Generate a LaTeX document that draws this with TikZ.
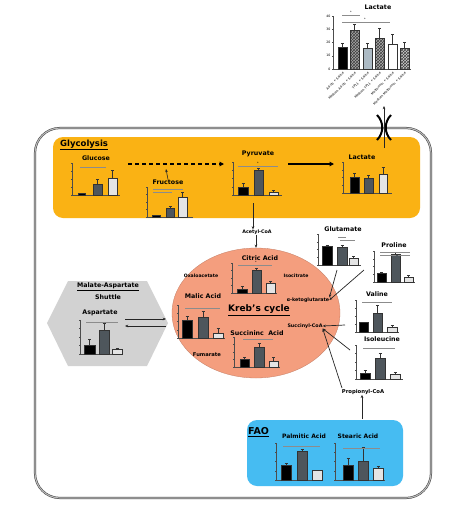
\documentclass[tikz,border=0pt]{standalone}
\usepackage{fontspec}
\setmainfont{DejaVu Sans}
\usetikzlibrary{arrows.meta,shapes.geometric,patterns}
\definecolor{glyorange}{RGB}{250,178,20}
\definecolor{krebsalmon}{RGB}{244,158,126}
\definecolor{faoblue}{RGB}{70,188,242}
\definecolor{hexgray}{RGB}{210,210,210}
\definecolor{bardark}{RGB}{78,86,92}
\definecolor{barlight}{RGB}{228,228,228}
\definecolor{barblue}{RGB}{172,186,196}
\newcommand{\chartaxes}[4]{%
  \draw[axisline] (#1,#2) -- (#1,#3) -- (#4,#3);
  \foreach \k in {0,...,4} \draw[axisline] (#1,{#3+(#2-#3)*\k/4}) -- ++(-1.2,0);
}
\newcommand{\chartbar}[6]{%
  \pgfmathsetmacro{\mycx}{(#1+#2)/2}%
  \draw[errline] (\mycx,#4) -- (\mycx,#5) (\mycx-1.5,#5) -- (\mycx+1.5,#5);
  \filldraw[barframe,fill=#6] (#1,#3) rectangle (#2,#4);
}
\newcommand{\hatchbar}[6]{%
  \chartbar{#1}{#2}{#3}{#4}{#5}{#6}%
  \fill[pattern=crosshatch,pattern color=black!75] (#1,#3) rectangle (#2,#4);
  \draw[barframe] (#1,#3) rectangle (#2,#4);
}
\newcommand{\sigline}[3]{\draw[sigstyle] (#1,#3) -- (#2,#3);}
\begin{document}
\begin{tikzpicture}[x=1pt,y=-1pt,
  lbl/.style={font=\fontsize{6.3}{7}\selectfont\bfseries,inner sep=0pt},
  sml/.style={font=\fontsize{4.8}{5.5}\selectfont\bfseries,inner sep=0pt},
  ttl/.style={font=\fontsize{8.5}{10}\selectfont\bfseries,inner sep=0pt},
  ticklbl/.style={font=\fontsize{3.2}{3.6}\selectfont,inner sep=0.3pt},
  axisline/.style={draw=black!70,line width=0.35pt},
  errline/.style={draw=black!80,line width=0.4pt},
  barframe/.style={draw=black!80,line width=0.35pt},
  sigstyle/.style={draw=black!45,line width=0.3pt},
  arr/.style={draw=black!85,line width=0.7pt,-{Stealth[length=3.2pt,width=2.6pt]}},
  thickarr/.style={draw=black,line width=1.6pt,-{Triangle[length=4.5pt,width=4.5pt]}},
]
\useasboundingbox (0,0) rectangle (474,509);
\fill[white] (0,0) rectangle (474,509);

% cell outline
\draw[draw=black!75,line width=0.5pt,double=gray!55,double distance=1.1pt,rounded corners=25pt] (35,128) rectangle (431,498);

% compartments
\node[fill=glyorange,rounded corners=10pt,minimum width=367pt,minimum height=81pt,inner sep=0pt] (glybox) at (236.5,177.5) {};
\node[ellipse,fill=krebsalmon,draw=krebsalmon!80!black,line width=0.3pt,minimum width=168pt,minimum height=130pt,inner sep=0pt] (krebs) at (256,313) {};
\fill[hexgray] (47,323) -- (68,281) -- (147,281) -- (168,323) -- (147,366) -- (68,366) -- cycle;
\node[fill=faoblue,rounded corners=10pt,minimum width=156pt,minimum height=66pt,inner sep=0pt] (fao) at (325,453) {};

% ---------- top Lactate chart ----------
\node[lbl] (toplac) at (378,7) {Lactate};
\chartaxes{333}{16}{69}{411}
\foreach \v/\yy in {40/16,30/29.25,20/42.5,10/55.75,0/69} \node[ticklbl,anchor=east] at (331,\yy) {\v};
\chartbar{338}{347}{69}{47}{43}{black}
\hatchbar{350}{359}{69}{30}{24}{gray!70}
\chartbar{363}{372}{69}{48}{43}{barblue}
\hatchbar{375}{384}{69}{38}{28}{gray!60}
\chartbar{388}{397}{69}{44}{34}{white}
\hatchbar{400}{409}{69}{48}{42}{gray!40}
\sigline{342}{360}{15}\node[ticklbl] at (351,12.5) {*};
\sigline{342}{390}{22}\node[ticklbl] at (365,19.5) {*};
\foreach \xx/\t in {342.5/Ad-lib + Saline,354.5/Medium Ad-lib + Saline,367.5/TPL1 + Saline,379.5/Medium TPL1 + Saline,392.5/Metformin + Saline,404.5/Medium Metformin + Saline}
  \node[ticklbl,rotate=45,anchor=north east] at (\xx,71) {\t};

% channel
\coordinate (chanbot) at (384,148);
\coordinate (chantop) at (384,106);
\draw[arr,line width=0.8pt] (chanbot) -- (chantop);
\draw[line width=2pt] (377,115) .. controls (384,122) and (384,133) .. (377,140);
\draw[line width=2pt] (391,115) .. controls (384,122) and (384,133) .. (391,140);

% ---------- glycolysis ----------
\node[ttl,anchor=west] (glyt) at (60,145) {\underline{Glycolysis}};
\node[lbl] (glucose) at (96,158) {Glucose};
\chartaxes{72}{163}{195}{120}
\chartbar{78}{85}{195}{193}{193}{black}
\chartbar{93}{102}{195}{184}{179}{bardark}
\chartbar{108}{117}{195}{178}{170}{barlight}
\sigline{80}{106}{167}

\node[lbl] (fructose) at (168,182) {Fructose};
\chartaxes{147}{187}{217}{193}
\chartbar{152}{160}{217}{215}{215}{black}
\chartbar{166}{174}{217}{208}{206}{bardark}
\chartbar{178}{187}{217}{197}{192}{barlight}
\sigline{153}{183}{189}
\sigline{153}{172}{192}

\node[lbl] (pyruvate) at (258,154) {Pyruvate};
\chartaxes{233}{162}{195}{282}
\chartbar{238}{248}{195}{187}{183}{black}
\chartbar{254}{263}{195}{170}{168}{bardark}
\chartbar{269}{278}{195}{192}{190}{barlight}
\sigline{238}{278}{166}\node[ticklbl] at (258,163) {*};

\node[lbl] (lactate) at (362,157) {Lactate};
\chartaxes{343}{162}{193}{392}
\chartbar{350}{359}{193}{177}{173}{black}
\chartbar{364}{373}{193}{178}{175}{bardark}
\chartbar{379}{387}{193}{174}{167}{barlight}

\coordinate (dashA) at (128,164);
\coordinate (dashB) at (224,164);
\draw[thickarr,line width=1.4pt,dash pattern=on 4pt off 3pt] (dashA) -- (dashB);
\coordinate (fructup) at (166,169);
\draw[arr,line width=0.6pt] (fructose.north) -- (fructup);
\coordinate (pyrR) at (288,164);
\coordinate (lacL) at (334,164);
\draw[thickarr] (pyrR) -- (lacL);

\coordinate (pyrdown) at (253,203);
\node[sml] (acetyl) at (257,232) {Acetyl-CoA};
\draw[arr] (pyrdown) -- (acetyl.north -| pyrdown);
\draw[arr] (acetyl.south -| krebs.north) -- (krebs.north);

% ---------- Kreb's cycle ----------
\node[lbl] (citric) at (260,258) {Citric Acid};
\chartaxes{232}{263}{293}{277}
\chartbar{237}{247}{293}{289}{286}{black}
\chartbar{252}{261}{293}{270}{268}{bardark}
\chartbar{266}{275}{293}{283}{281}{barlight}
\sigline{238}{272}{265}\node[ticklbl] at (256,262.5) {*};

\node[sml,font=\fontsize{4.6}{5}\selectfont\bfseries] (oxalo) at (201,276) {Oxaloacetate};
\node[sml,font=\fontsize{4.6}{5}\selectfont\bfseries] (isocit) at (296,276) {Isocitrate};
\node[lbl] (malic) at (203,296) {Malic Acid};
\node[sml] (akg) at (308,300) {α-ketoglutarate};
\chartaxes{178}{305}{338}{225}
\chartbar{182}{192}{338}{320}{316}{black}
\chartbar{198}{208}{338}{317}{311}{bardark}
\chartbar{213}{223}{338}{333}{328}{barlight}
\sigline{185}{220}{308}

\node[ttl,font=\fontsize{9}{10}\selectfont\bfseries] (krebst) at (259,310) {\underline{Kreb's cycle}};
\node[sml] (succoa) at (305,326) {Succinyl-CoA};
\node[lbl] (succacid) at (257,333) {Succininc\ \ Acid};
\chartaxes{234}{337}{367}{280}
\chartbar{240}{249}{367}{359}{357}{black}
\chartbar{254}{264}{367}{347}{343}{bardark}
\chartbar{269}{278}{367}{361}{357}{barlight}
\sigline{243}{273}{339}
\node[sml,font=\fontsize{5.2}{6}\selectfont\bfseries] (fumarate) at (207,355) {Fumarate};

% ---------- amino acids ----------
\node[lbl] (glutamate) at (343,229) {Glutamate};
\chartaxes{318}{234}{265}{361}
\chartbar{322}{332}{265}{246}{245}{black}
\chartbar{337}{347}{265}{247}{245}{bardark}
\chartbar{349}{358}{265}{258}{256}{barlight}
\sigline{338}{346}{237}
\sigline{340}{355}{240}

\node[lbl] (proline) at (394,245) {Proline};
\chartaxes{374}{251}{282}{415}
\chartbar{377}{386}{282}{273}{272}{black}
\chartbar{391}{400}{282}{254}{252}{bardark}
\chartbar{404}{413}{282}{277}{275}{barlight}
\sigline{380}{410}{252}
\sigline{380}{396}{255}
\sigline{398}{410}{255}

\node[lbl] (valine) at (377,294) {Valine};
\chartaxes{356}{300}{332}{399}
\chartbar{359}{368}{332}{322}{322}{black}
\chartbar{373}{382}{332}{313}{305}{bardark}
\chartbar{387}{397}{332}{327}{325}{barlight}
\sigline{362}{392}{302}

\node[lbl] (isoleucine) at (382,339) {Isoleucine};
\chartaxes{356}{345}{379}{403}
\chartbar{360}{370}{379}{373}{370}{black}
\chartbar{375}{385}{379}{358}{353}{bardark}
\chartbar{390}{400}{379}{374}{372}{barlight}
\sigline{363}{395}{348}

\node[sml,font=\fontsize{5.3}{6}\selectfont\bfseries] (propionyl) at (363,392) {Propionyl-CoA};

\coordinate (gluA) at (337,270);
\coordinate (proA) at (364,270);
\coordinate (valA) at (345,325);
\coordinate (isoA) at (350,350);
\coordinate (propA) at (342,388);
\coordinate (faoA) at (362,419);
\draw[arr] (gluA) -- (akg.north east);
\draw[arr] (proA) -- (akg.east);
\draw[arr] (valA) -- (succoa.east);
\draw[arr] (isoA) -- (succoa.south east);
\draw[arr] (propA) -- (succoa.south east);
\draw[arr] (faoA) -- (propionyl.south -| faoA);

% ---------- Malate-Aspartate shuttle ----------
\node[lbl] (mas) at (108,287) {\underline{Malate-Aspartate}};
\node[lbl] (shuttle) at (108,297) {Shuttle};
\node[lbl] (aspartate) at (100,313) {Aspartate};
\chartaxes{80}{320}{354}{123}
\chartbar{84}{95}{354}{345}{339}{black}
\chartbar{99}{109}{354}{330}{323}{bardark}
\chartbar{112}{122}{354}{349}{348}{barlight}
\sigline{86}{118}{322}

\coordinate (hexA) at (125,319);
\coordinate (krA) at (166,319);
\coordinate (hexB) at (125,326);
\coordinate (krB) at (166,326);
\draw[arr,line width=0.9pt] (hexA) -- (krA);
\draw[arr,line width=0.9pt] (krB) -- (hexB);

% ---------- FAO ----------
\node[ttl,font=\fontsize{9.5}{11}\selectfont\bfseries,anchor=west] (faot) at (248,432) {\underline{FAO}};
\node[lbl,font=\fontsize{6}{7}\selectfont\bfseries] (palmitic) at (304,436) {Palmitic Acid};
\chartaxes{276}{443}{480}{323}
\chartbar{281}{291}{480}{465}{463}{black}
\chartbar{297}{307}{480}{451}{449}{bardark}
\chartbar{312}{322}{480}{470}{470}{barlight}
\sigline{283}{320}{446}

\node[lbl,font=\fontsize{6}{7}\selectfont\bfseries] (stearic) at (358,436) {Stearic Acid};
\chartaxes{335}{443}{480}{385}
\chartbar{343}{353}{480}{465}{458}{black}
\chartbar{358}{368}{480}{461}{447}{bardark}
\chartbar{373}{383}{480}{468}{466}{barlight}
\sigline{343}{380}{448}
\end{tikzpicture}
\end{document}
